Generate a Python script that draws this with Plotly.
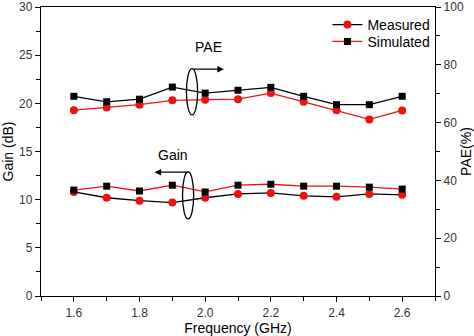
import plotly.graph_objects as go

freq = [1.6, 1.7, 1.8, 1.9, 2.0, 2.1, 2.2, 2.3, 2.4, 2.5, 2.6]
gain_measured = [10.8, 10.2, 9.9, 9.7, 10.2, 10.6, 10.7, 10.4, 10.3, 10.6, 10.5]
gain_simulated = [11.0, 11.4, 10.9, 11.5, 10.8, 11.5, 11.6, 11.4, 11.4, 11.3, 11.1]
pae_measured = [64.3, 65.2, 66.2, 67.7, 67.9, 68.1, 70.2, 67.2, 64.3, 61.1, 64.2]
pae_simulated = [69.1, 67.2, 68.1, 72.3, 70.2, 71.2, 72.2, 69.1, 66.2, 66.2, 69.1]

RED = "#ee1111"
BLACK = "#000000"
FONT = "Liberation Sans, Arial, sans-serif"

fig = go.Figure()

# Gain curves (left axis)
fig.add_trace(go.Scatter(
    x=freq, y=gain_measured, name="Measured", mode="lines+markers", legend="legend",
    line=dict(color=BLACK, width=1.3),
    marker=dict(symbol="circle", size=8, color=RED),
))
fig.add_trace(go.Scatter(
    x=freq, y=gain_simulated, name="Simulated", mode="lines+markers", legend="legend2",
    line=dict(color=RED, width=1.3),
    marker=dict(symbol="square", size=7, color=BLACK),
))

# PAE curves (right axis)
fig.add_trace(go.Scatter(
    x=freq, y=pae_measured, name="Measured", mode="lines+markers", yaxis="y2",
    line=dict(color=RED, width=1.3), showlegend=False,
    marker=dict(symbol="circle", size=8, color=RED),
))
fig.add_trace(go.Scatter(
    x=freq, y=pae_simulated, name="Simulated", mode="lines+markers", yaxis="y2",
    line=dict(color=BLACK, width=1.3), showlegend=False,
    marker=dict(symbol="square", size=7, color=BLACK),
))

axis_common = dict(
    showgrid=False, zeroline=False, showline=True, linecolor=BLACK, linewidth=1.3,
    ticks="outside", ticklen=5, tickwidth=1.2, tickcolor=BLACK,
    tickfont=dict(family=FONT, size=12, color="#333333"),
    ticklabeloverflow="allow", automargin=False,
)

legend_common = dict(
    xanchor="left", yanchor="top", bgcolor="rgba(0,0,0,0)",
    font=dict(family=FONT, size=14, color=BLACK), itemwidth=30,
)

fig.update_layout(
    width=474, height=336,
    margin=dict(l=41, r=39, t=7, b=40, autoexpand=False),
    paper_bgcolor="white", plot_bgcolor="white",
    font=dict(family=FONT, color=BLACK),
    xaxis=dict(
        range=[1.5, 2.7], tickvals=[1.6, 1.8, 2.0, 2.2, 2.4, 2.6],
        ticktext=["1.6", "1.8", "2.0", "2.2", "2.4", "2.6"],
        minor=dict(tickvals=[1.5, 1.7, 1.9, 2.1, 2.3, 2.5, 2.7], ticks="outside",
                   ticklen=4, tickcolor=BLACK, tickwidth=1.2),
        mirror=True,
        title=dict(text="Frequency (GHz)", font=dict(size=14), standoff=5),
        **axis_common,
    ),
    yaxis=dict(
        range=[0, 30], dtick=5,
        minor=dict(dtick=2.5, ticks="outside", ticklen=4, tickcolor=BLACK, tickwidth=1.2),
        title=dict(text="Gain (dB)", font=dict(size=14), standoff=6),
        **axis_common,
    ),
    yaxis2=dict(
        range=[0, 100], dtick=20, overlaying="y", side="right",
        minor=dict(dtick=10, ticks="outside", ticklen=4, tickcolor=BLACK, tickwidth=1.2),
        title=dict(text="PAE(%)", font=dict(size=14), standoff=6),
        **axis_common,
    ),
    legend=dict(x=0.727, y=0.993, **legend_common),
    legend2=dict(x=0.727, y=0.935, **legend_common),
    showlegend=True,
)

# Ellipses grouping the curve pairs, with arrows pointing to their axes
fig.add_shape(type="circle", xref="x", yref="y", x0=1.943, x1=1.977, y0=18.8, y1=23.6,
              line=dict(color=BLACK, width=1.3))
fig.add_shape(type="circle", xref="x", yref="y", x0=1.931, x1=1.965, y0=8.0, y1=12.9,
              line=dict(color=BLACK, width=1.3))

fig.add_annotation(x=2.057, y=23.55, ax=1.96, ay=23.55, axref="x", ayref="y",
                   xref="x", yref="y", text="", showarrow=True,
                   arrowhead=2, arrowsize=1, arrowwidth=1.3, arrowcolor=BLACK)
fig.add_annotation(x=1.846, y=12.85, ax=1.948, ay=12.85, axref="x", ayref="y",
                   xref="x", yref="y", text="", showarrow=True,
                   arrowhead=2, arrowsize=1, arrowwidth=1.3, arrowcolor=BLACK)

fig.add_annotation(x=2.01, y=25.8, xref="x", yref="y", text="PAE", showarrow=False,
                   font=dict(family=FONT, size=14, color=BLACK))
fig.add_annotation(x=1.902, y=14.6, xref="x", yref="y", text="Gain", showarrow=False,
                   font=dict(family=FONT, size=14, color=BLACK))

fig.write_html("out.html")
